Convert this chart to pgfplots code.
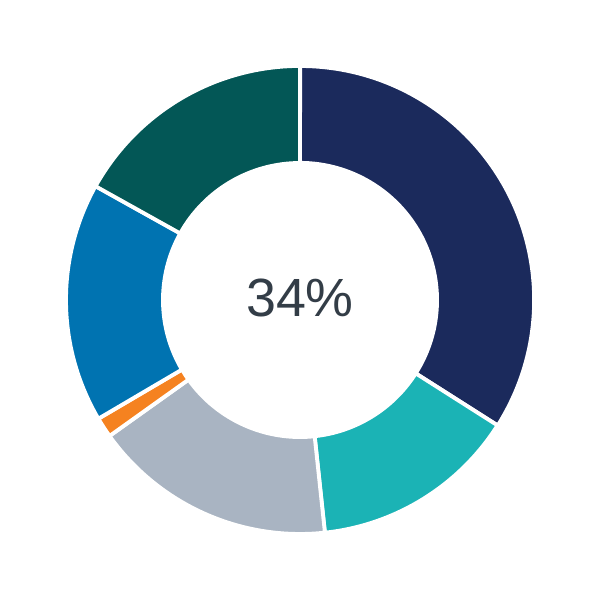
\documentclass[border=0pt]{standalone}
\usepackage{pgfplots}
\usepackage{pgfplotstable}
\pgfplotsset{compat=1.18}
\usepackage{fontspec}
\setmainfont{Liberation Sans}
\definecolor{c1}{HTML}{1B2A5C}
\definecolor{c2}{HTML}{1BB3B5}
\definecolor{c3}{HTML}{A9B4C2}
\definecolor{c4}{HTML}{F58220}
\definecolor{c5}{HTML}{0073B1}
\definecolor{c6}{HTML}{035756}
\definecolor{txt}{HTML}{333D47}
\pgfplotstableread{
value color
34.0 c1
14.3 c2
16.83 c3
1.4 c4
16.55 c5
16.92 c6
}\donutdata
\pgfplotstablegetrowsof{\donutdata}
\pgfmathtruncatemacro\N{\pgfplotsretval-1}
\begin{document}
\begin{tikzpicture}
\begin{axis}[
  x=0.01cm, y=0.01cm,
  xmin=-300, xmax=300, ymin=-300, ymax=300,
  hide axis, clip=false,
]
\addplot[draw=none] coordinates {(-300,-300) (300,300)};
\def\cum{0}
\pgfplotsforeachungrouped \i in {0,...,\N}{%
  \pgfplotstablegetelem{\i}{value}\of\donutdata \let\v\pgfplotsretval
  \pgfplotstablegetelem{\i}{color}\of\donutdata \let\c\pgfplotsretval
  \pgfmathsetmacro\a{90-\cum*3.6}%
  \pgfmathsetmacro\b{90-(\cum+\v)*3.6}%
  \edef\temp{\noexpand\filldraw[fill=\c, draw=white, line width=1.1pt, line join=miter]
    (axis cs:{234*cos(\a)},{234*sin(\a)}) arc[start angle=\a, end angle=\b, radius=2.34cm]
    -- (axis cs:{137*cos(\b)},{137*sin(\b)}) arc[start angle=\b, end angle=\a, radius=1.37cm] -- cycle;}%
  \temp
  \pgfmathsetmacro\cum{\cum+\v}%
}
\node[text=txt, font=\fontsize{15.3}{18}\selectfont, anchor=center] at (axis cs:0,2) {34\%};
\end{axis}
\end{tikzpicture}
\end{document}
